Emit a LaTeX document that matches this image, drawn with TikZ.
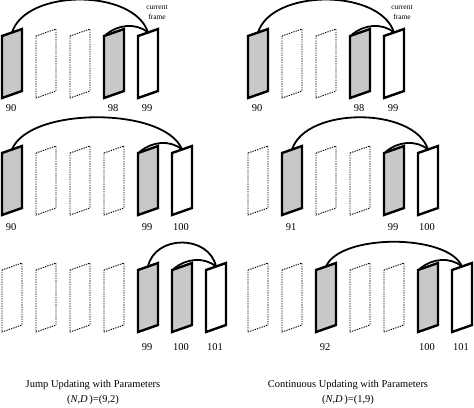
\documentclass[tikz,border=0pt]{standalone}
\usepackage{fontspec}
\setmainfont{Liberation Serif}
\definecolor{fgray}{RGB}{200,200,200}
\tikzset{
  reff/.style={draw=black, fill=fgray, line width=2.4bp, line join=miter},
  curf/.style={draw=black, fill=white, line width=2.4bp, line join=miter},
  emptyf/.style={draw=black, line width=0.9bp, dash pattern=on 1.3bp off 1.1bp},
  link/.style={line width=1.8bp},
  lbl/.style={font=\fontsize{10.5}{12}\selectfont, inner sep=0pt},
  captxt/.style={font=\fontsize{10.5}{15}\selectfont, align=center, inner sep=0pt},
  notetxt/.style={font=\fontsize{7.5}{10.5}\selectfont, align=center, inner sep=0pt}
}
% #1 name, #2 x, #3 top, #4 style
\newcommand\frm[4]{%
  \draw[#4] (#2,#3+7) -- (#2+20,#3) -- (#2+20,#3+62) -- (#2,#3+69) -- cycle;
  \coordinate (#1m) at (#2+10,#3+3.5);
  \coordinate (#1l) at (#2+2,#3+5.5);}
% #1 from, #2 to, #3 control rise, #4 dx
\newcommand\lnk[4]{\draw[link] (#1) .. controls +(#4,-#3) and +(-#4,-#3) .. (#2);}
\newcommand\lab[3]{\node[lbl] at (#1+9,#2) {#3};}
\begin{document}
\begin{tikzpicture}[x=1bp,y=-1bp]
\useasboundingbox (0,0) rectangle (474,407);
% ---------- row 1 left
\frm{A0}{2}{29}{reff}
\frm{A1}{36}{29}{emptyf}
\frm{A2}{70}{29}{emptyf}
\frm{A3}{104}{29}{reff}
\frm{A4}{138}{29}{curf}
\lnk{A0m}{A4m}{44}{14}
\lnk{A3l}{A4m}{10}{12}
\lab{2}{108}{90}\lab{104}{108}{98}\lab{138}{108}{99}
\node[notetxt] (n1) at (157,12.5) {current\\frame};
% ---------- row 1 right
\frm{B0}{248}{29}{reff}
\frm{B1}{282}{29}{emptyf}
\frm{B2}{316}{29}{emptyf}
\frm{B3}{350}{29}{reff}
\frm{B4}{384}{29}{curf}
\lnk{B0m}{B4m}{44}{14}
\lnk{B3l}{B4m}{10}{12}
\lab{248}{108}{90}\lab{350}{108}{98}\lab{384}{108}{99}
\node[notetxt] (n2) at (402,12.5) {current\\frame};
% ---------- row 2 left
\frm{C0}{2}{146}{reff}
\frm{C1}{36}{146}{emptyf}
\frm{C2}{70}{146}{emptyf}
\frm{C3}{104}{146}{emptyf}
\frm{C4}{138}{146}{reff}
\frm{C5}{172}{146}{curf}
\lnk{C0m}{C5m}{43}{17}
\lnk{C4l}{C5m}{10}{12}
\lab{2}{227}{90}\lab{138}{227}{99}\lab{172}{227}{100}
% ---------- row 2 right
\frm{D0}{248}{146}{emptyf}
\frm{D1}{282}{146}{reff}
\frm{D2}{316}{146}{emptyf}
\frm{D3}{350}{146}{emptyf}
\frm{D4}{384}{146}{reff}
\frm{D5}{418}{146}{curf}
\lnk{D1m}{D5m}{43}{14}
\lnk{D4l}{D5m}{10}{12}
\lab{282}{227}{91}\lab{384}{227}{99}\lab{418}{227}{100}
% ---------- row 3 left
\frm{E0}{2}{263}{emptyf}
\frm{E1}{36}{263}{emptyf}
\frm{E2}{70}{263}{emptyf}
\frm{E3}{104}{263}{emptyf}
\frm{E4}{138}{263}{reff}
\frm{E5}{172}{263}{reff}
\frm{E6}{206}{263}{curf}
\lnk{E4m}{E6m}{32}{7}
\lnk{E5l}{E6m}{10}{12}
\lab{138}{347}{99}\lab{172}{347}{100}\lab{206}{347}{101}
% ---------- row 3 right
\frm{F0}{248}{263}{emptyf}
\frm{F1}{282}{263}{emptyf}
\frm{F2}{316}{263}{reff}
\frm{F3}{350}{263}{emptyf}
\frm{F4}{384}{263}{emptyf}
\frm{F5}{418}{263}{reff}
\frm{F6}{452}{263}{curf}
\lnk{F2m}{F6m}{33}{14}
\lnk{F5l}{F6m}{10}{12}
\lab{316}{347}{92}\lab{418}{347}{100}\lab{452}{347}{101}
% ---------- captions
\node[captxt] (c1) at (93,392) {Jump Updating with Parameters\\(\textit{N},\textit{D}\,)=(9,2)};
\node[captxt] (c2) at (348,392) {Continuous Updating with Parameters\\(\textit{N},\textit{D}\,)=(1,9)};
\end{tikzpicture}
\end{document}
